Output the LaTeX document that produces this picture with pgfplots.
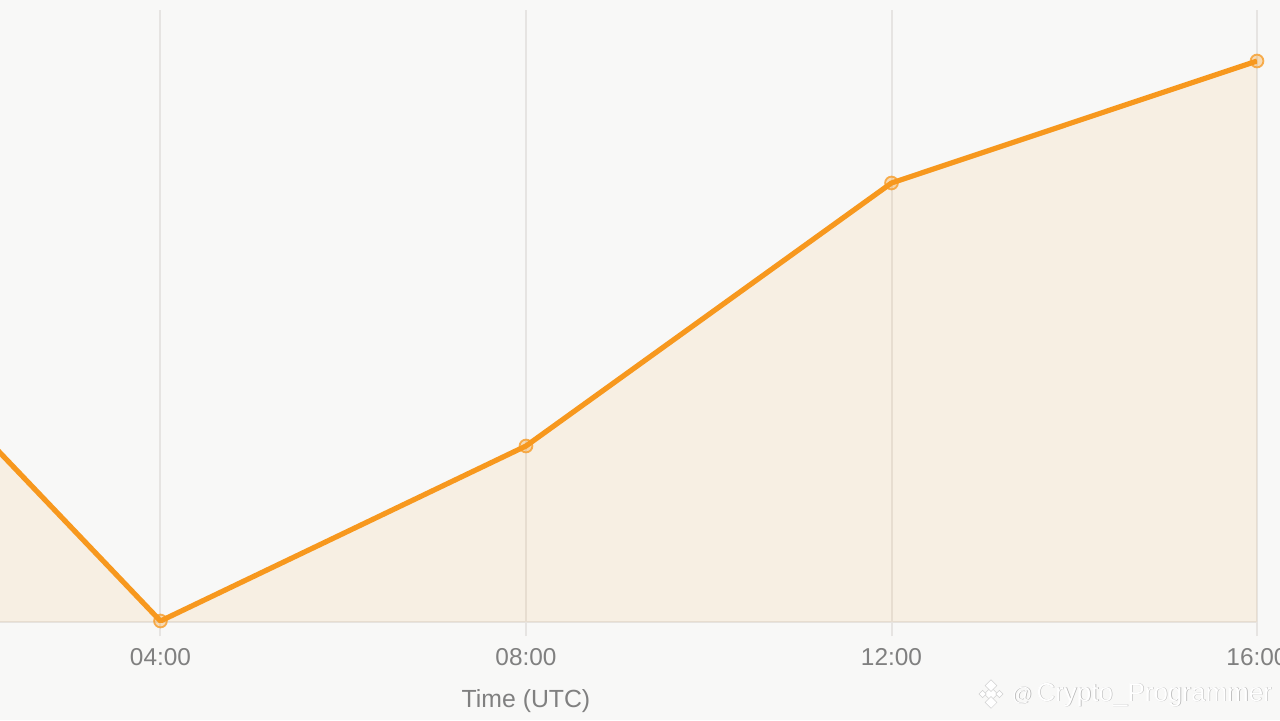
\documentclass[border=0pt]{standalone}
\usepackage{fontspec}
\setmainfont{Liberation Sans}
\usepackage{pgfplots}
\pgfplotsset{compat=1.18}
\definecolor{bgc}{HTML}{F8F8F7}
\definecolor{linec}{HTML}{F7981E}
\definecolor{gridc}{HTML}{E6E4E2}
\definecolor{labc}{HTML}{808080}
\newcommand{\wmark}{{\fontsize{10pt}{14pt}\selectfont @}\hspace{2pt}Crypto\_Programmer}
\begin{document}
\begin{tikzpicture}
\path[use as bounding box,clip] (0,0) rectangle (640pt,360pt);
\fill[bgc] (0,0) rectangle (640pt,360pt);
\begin{axis}[
  at={(-2pt,49pt)},anchor=south west,
  scale only axis,width=630.5pt,height=306pt,
  xmin=2.2,xmax=16,ymin=0,ymax=612,
  axis y line=none,
  axis x line=bottom,
  axis line style={draw=gridc,line width=1pt,-},
  xtick={4,8,12,16},
  xticklabels={04:00,08:00,12:00,16:00},
  xmajorgrids,
  grid style={draw=gridc,line width=1pt},
  major tick length=7pt,
  tick style={draw=gridc,line width=1pt},
  tick align=outside,
  xticklabel style={font=\fontsize{12.2pt}{14pt}\selectfont,text=labc,anchor=center,yshift=-10.5pt},
  xlabel={Time (UTC)},
  x label style={at={(axis cs:8,0)},anchor=center,yshift=-39.6pt,font=\fontsize{12.4pt}{14pt}\selectfont,text=labc},
  clip=true,
]
\addplot[draw=none,fill=linec,fill opacity=0.09]
  coordinates {(2.2,173.5)(4,1)(8,176)(12,439)(16,561)} \closedcycle;
\addplot[linec,line width=2.6pt,line join=round,forget plot]
  coordinates {(2.2,173.5)(4,1)(8,176)(12,439)(16,561)};
\addplot[only marks,mark=*,mark size=3.2pt,
  mark options={draw=linec,draw opacity=0.75,fill=linec,fill opacity=0.3,line width=0.9pt}]
  coordinates {(4,1)(8,176)(12,439)(16,561)};
\end{axis}
% watermark
\begin{scope}[shift={(495.5pt,13pt)}]
  \foreach \dx/\dy/\s in {0/0/2.4,-4.2/0/1.3,4.2/0/1.3,0/4.2/2.1,0/-4.2/2.1}{
    \fill[white,draw=black!18,line width=0.25pt,rotate around={45:(\dx pt,\dy pt)}]
      (\dx pt-\s pt,\dy pt-\s pt) rectangle (\dx pt+\s pt,\dy pt+\s pt);
  }
\end{scope}
\node[anchor=west,text=black!30,inner sep=0pt,font=\fontsize{13pt}{14pt}\selectfont] at (506.2pt,12.2pt) {\wmark};
\node[anchor=west,text=white,inner sep=0pt,font=\fontsize{13pt}{14pt}\selectfont] at (505.9pt,12.5pt) {\wmark};
\end{tikzpicture}
\end{document}
